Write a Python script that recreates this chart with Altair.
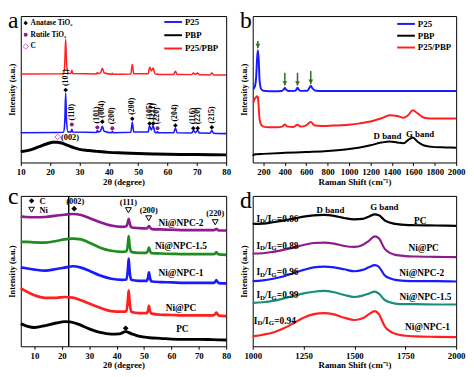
import altair as alt
import pandas as pd

SERIF = "Liberation Serif"
BLACK = "#000000"
BLUE = "#1a1aff"
RED = "#ff1f1f"
PURPLE = "#8e1b8e"
GREEN = "#1e8c1e"
TEAL = "#1d8b7e"
ARROW = "#2e6e1f"
MAGENTA = "#e64de6"

# ---------------- panel a : XRD (2theta, intensity a.u.) ----------------
A_X_TIO2 = [10, 24.6, 25.0, 25.3, 25.6, 26.1, 27.1, 27.4, 27.7, 35.8, 36.1, 36.4, 37.2, 37.8, 38.4,
            40.9, 41.2, 41.5, 47.5, 48.0, 48.5, 53.4, 53.9, 54.5, 55.1, 55.7, 56.3, 56.6, 56.9,
            62.1, 62.7, 63.3, 68.3, 68.8, 69.5, 70.3, 70.9, 74.5, 75.1, 75.7, 80]
A_Y_P25 = [20.3, 20.6, 28, 47.4, 28, 20.9, 20.8, 22.6, 20.8, 20.5, 22, 20.8, 21.6, 24.8, 21.3,
           20.3, 21.3, 20.3, 20.6, 27.5, 20.8, 20.8, 25, 22.3, 25, 20.8, 20.3, 21, 20.3,
           20.3, 23.5, 20.3, 20.2, 21.8, 20.4, 21.8, 20.1, 20, 21.8, 20, 19.7]
A_Y_MIX = [60.4, 60.6, 68, 84.2, 68, 61, 60.8, 63, 60.8, 60.5, 61.5, 60.7, 61.5, 64.3, 61.3,
           60.3, 60.9, 60.2, 60.4, 67, 60.6, 60.6, 65, 62.5, 64.5, 60.6, 60.2, 60.6, 60.1,
           60.1, 62.3, 60.1, 60, 61.1, 60.2, 61.1, 59.9, 59.8, 61.1, 59.8, 59.7]
A_X_PBP = [10, 13, 16, 19, 21, 22.5, 24, 26, 28, 30, 33, 36, 40, 45, 50, 55, 60, 70, 80]
A_Y_PBP = [7.3, 8.4, 10.6, 12.8, 13.8, 13.8, 13.2, 11.7, 10.2, 9, 8.2, 7.6, 6.9, 6.5, 6.1, 5.8, 5.6, 5.4, 5.2]

A_ANA_X = [25.3, 37.8, 48.0, 53.9, 55.1, 62.7, 68.8, 70.3, 75.1]
A_ANA_Y = [49.5, 27.9, 29.9, 26.6, 26.6, 25.3, 23.4, 23.4, 24.0]
A_ANA_LBL = ["(101)", "(004)", "(200)", "(105)", "(211)", "(204)", "(116)", "(220)", "(215)"]
A_RUT_X = [27.4, 36.1, 41.2, 56.6]
A_RUT_Y = [26.0, 24.0, 23.4, 23.4]
A_RUT_LBL = ["(110)", "(101)", "(200)", "(220)"]
A_C_X = [22.6]
A_C_Y = [17.5]
A_C_LBL = ["(002)"]
A_LEG_SERIES = ["P25", "PBP", "P25/PBP"]
A_LEG_PHASE = ["Anatase TiO₂", "Rutile TiO₂", "C"]

# ---------------- panel b : Raman ----------------
B_X_P25 = [105, 120, 132, 140, 148, 156, 164, 180, 200, 300, 370, 388, 400, 412, 430,
           495, 508, 518, 528, 545, 610, 630, 642, 654, 680, 750, 900, 1200, 1600, 2000]
B_Y_P25 = [50.2, 52, 58, 70, 76.6, 70, 56, 50, 49, 48.6, 48.8, 49.8, 50.8, 49.8, 48.8,
           48.9, 49.9, 51, 49.9, 48.9, 49.0, 51, 52.5, 51, 49.2, 48.8, 48.8, 48.8, 48.8, 48.8]
B_X_MIX = [105, 118, 132, 140, 148, 156, 164, 180, 200, 250, 330, 375, 400, 425, 480,
           518, 550, 600, 642, 680, 750, 850, 1000, 1100, 1200, 1300,
           1380, 1450, 1510, 1550, 1595, 1640, 1700, 1800, 1900, 2000]
B_Y_MIX = [41.1, 43.3, 44.6, 45.3, 44.6, 37.6, 29.5, 25.6, 24.5, 24.1, 24.1, 24.5, 26.0, 24.5, 24.3,
           25.8, 24.5, 25.4, 27.6, 25.2, 24.9, 25.2, 25.8, 26.7, 28.0, 30.2,
           32.2, 31.7, 30.6, 32.2, 35.7, 33.5, 30.6, 30.0, 30.0, 30.0]
B_X_PBP = [105, 110, 200, 400, 600, 800, 1000, 1100, 1200, 1300, 1380, 1450, 1510, 1550, 1595,
           1640, 1700, 1800, 1900, 2000]
B_Y_PBP = [4.4, 5.5, 5.9, 6.6, 7.2, 7.9, 9.2, 10.3, 11.8, 13.6, 14.4, 13.6, 13.1, 15.3, 17.1,
           14.2, 11.6, 10.5, 10.3, 10.1]
B_ARROW_X = [148, 400, 518, 642]
B_ARROW_TOP = [83, 61.3, 61.3, 62.4]
B_ARROW_TIP = [78, 52.5, 52.5, 53.6]
B_BAND_X = [1358, 1663]
B_BAND_Y = [17.9, 19.7]
B_BAND_LBL = ["D band", "G band"]

# ---------------- panel c : XRD of carbons ----------------
C_X_PC = [5, 7.5, 10, 14, 18, 21, 23, 26, 30, 34, 38, 41, 43.3, 45.5, 48, 52, 56, 60, 65, 70, 75, 80]
C_Y_PC = [15.1, 13.3, 12.5, 13.8, 15.5, 16.4, 16.2, 14.7, 11.6, 9.2, 8.1, 8.3, 9.8, 8.3, 6.8, 5.7,
          5.3, 4.8, 4.6, 4.6, 4.4, 4.2]
C_X_NI = [5, 7, 10, 14, 18, 21, 24, 27, 30, 34, 38, 42, 43.6, 44.1, 44.4, 44.7, 45.3, 48,
          50.9, 51.5, 51.8, 52.1, 52.8, 56, 60, 65, 70, 75.4, 76.1, 76.4, 76.7, 77.3, 80]
C_Y_NIPC = [38.7, 36.5, 33.9, 32.2, 32.2, 32.8, 32.4, 30.6, 28.4, 25.6, 23.4, 23.0, 23.4, 30.6, 37.2,
            30.6, 23.0, 22.1, 22.1, 24.1, 26.9, 24.1, 21.7, 21.0, 20.8, 20.6, 20.6, 20.6, 21.7,
            22.5, 21.7, 20.4, 20.1]
C_Y_NPC1 = [52.5, 51.9, 51.0, 50.3, 51.4, 52.3, 53.2, 52.3, 50.3, 47.0, 44.9, 44.2, 44.4, 51.0, 58.4,
            51.0, 44.2, 43.5, 43.5, 46.0, 49.2, 46.0, 43.1, 42.7, 42.5, 42.2, 42.2, 42.2, 43.1,
            44.0, 43.1, 42.0, 41.8]
C_Y_NPC15 = [69.4, 69.4, 69.1, 68.9, 70.0, 71.1, 71.6, 71.1, 68.9, 65.6, 63.5, 62.8, 63.2, 67.8, 73.3,
             67.8, 62.8, 62.1, 62.1, 63.9, 65.6, 63.9, 61.9, 61.7, 61.5, 61.3, 61.3, 61.3, 61.9,
             62.6, 61.9, 61.1, 60.8]
C_Y_NPC2 = [86.4, 86.0, 85.8, 86.0, 86.9, 87.5, 88.0, 87.3, 85.3, 82.5, 80.3, 79.4, 79.9, 82.5, 84.7,
            82.5, 79.2, 78.6, 78.3, 79.2, 79.9, 79.2, 77.9, 77.7, 77.5, 77.2, 77.2, 77.2, 77.7,
            78.1, 77.7, 77.0, 77.0]
C_LINE_X = [22.5]
C_LBL = ["Ni@NPC-2", "Ni@NPC-1.5", "Ni@NPC-1", "Ni@PC", "PC"]
C_LBL_X = [63.5, 63.5, 63.5, 63.5, 64.0]
C_LBL_Y = [82.0, 66.7, 48.8, 25.6, 11.4]
C_PEAK_LBL = ["(002)", "(111)", "(200)", "(220)"]
C_PEAK_X = [24.9, 44.3, 51.7, 76.0]
C_PEAK_Y = [96.3, 96.0, 90.7, 88.5]
C_DIA_X = [24.5, 43.3]
C_DIA_Y = [91.5, 12.0]
C_TRI_X = [44.3, 51.7, 76.0]
C_TRI_Y = [90.5, 85.1, 82.5]

# ---------------- panel d : Raman of carbons ----------------
D_X = [1000, 1050, 1100, 1150, 1200, 1250, 1300, 1350, 1400, 1450, 1500, 1540, 1570, 1600, 1620,
       1650, 1700, 1750, 1800, 1900, 2000]
D_Y_PC = [81.4, 81.6, 82.5, 83.6, 84.9, 86.2, 87.1, 87.4, 86.7, 85.3, 84.4, 84.7, 86.2, 87.7, 87.1,
          83.6, 81.4, 80.7, 80.5, 80.3, 80.1]
D_Y_NIPC = [61.7, 61.9, 62.8, 64.1, 65.6, 67.4, 68.7, 68.9, 68.3, 66.7, 66.1, 67.4, 70.0, 73.1, 71.8,
            64.6, 60.8, 60.0, 59.7, 59.5, 59.3]
D_Y_NPC2 = [43.3, 43.8, 44.9, 46.4, 48.6, 50.8, 52.5, 53.0, 52.5, 51.2, 49.9, 50.8, 52.5, 54.0, 52.9,
            47.0, 44.2, 43.5, 43.3, 43.3, 43.1]
D_Y_NPC15 = [28.9, 29.3, 30.2, 31.7, 33.5, 35.2, 36.3, 36.8, 35.9, 34.1, 32.8, 33.7, 35.0, 36.3, 35.0,
             30.6, 28.4, 28.0, 28.0, 27.8, 27.8]
D_Y_NPC1 = [6.6, 7.7, 9.2, 11.8, 15.3, 19.0, 21.4, 22.1, 21.2, 19.0, 17.5, 18.6, 21.2, 23.4, 21.4,
            13.1, 8.3, 7.0, 6.6, 6.3, 6.1]
D_LBL = ["PC", "Ni@PC", "Ni@NPC-2", "Ni@NPC-1.5", "Ni@NPC-1"]
D_LBL_X = [1823, 1840, 1831, 1849, 1859]
D_LBL_Y = [83.2, 65.2, 48.6, 32.8, 12.7]
D_RATIO = ["0.86", "0.88", "0.96", "0.99", "0.94"]
D_RATIO_X = [1018, 1018, 1018, 1018, 1005]
D_RATIO_Y = [84.7, 66.7, 49.2, 33.9, 16.8]
D_BAND_X = [1382, 1647]
D_BAND_Y = [90.4, 92.3]
D_BAND_LBL = ["D band", "G band"]

# ---------------- layout ----------------
W_L, W_R = 209, 207
H_TOP, H_BOT = 149, 153
ONE = pd.DataFrame({"k": [0]})


def xenc(domain, values, title):
    return alt.X("x:Q", scale=alt.Scale(domain=domain, nice=False, zero=False),
                 axis=alt.Axis(values=values, title=title, format="d", labelFlush=False,
                               labelOverlap=False, titlePadding=1))


YENC = alt.Y("y:Q", scale=alt.Scale(domain=[0, 100], nice=False),
             axis=alt.Axis(title="Intensity (a.u.)", labels=False, ticks=False, titlePadding=4,
                           titleFontSize=8.5))


def line(xs, ys, color, width, X):
    return alt.Chart(pd.DataFrame({"x": xs, "y": ys})).mark_line(
        color=color, strokeWidth=width, interpolate="monotone").encode(x=X, y=YENC)


def pts(xs, ys, X, **kw):
    return alt.Chart(pd.DataFrame({"x": xs, "y": ys})).mark_point(**kw).encode(x=X, y=YENC)


def texts(xs, ys, labels, X, **kw):
    return alt.Chart(pd.DataFrame({"x": xs, "y": ys, "t": labels})).mark_text(**kw).encode(
        x=X, y=YENC, text="t:N")


def ptext(px, py, s, **kw):
    return alt.Chart(ONE).mark_text(text=s, **kw).encode(x=alt.value(px), y=alt.value(py))


def pline(x0, x1, py, color):
    return alt.Chart(ONE).mark_rule(color=color, strokeWidth=2).encode(
        x=alt.value(x0), x2=alt.value(x1), y=alt.value(py))


def psym(px, py, **kw):
    return alt.Chart(ONE).mark_point(**kw).encode(x=alt.value(px), y=alt.value(py))


def letter(s, py):
    return ptext(-13, py, s, fontSize=24, fontWeight="normal", align="left", baseline="alphabetic")


# panel a
XA = xenc([10, 80], list(range(10, 81, 10)), "2θ (degree)")
la = [
    line(A_X_PBP, A_Y_PBP, BLACK, 3.0, XA),
    line(A_X_TIO2, A_Y_P25, BLUE, 1.6, XA),
    line(A_X_TIO2, A_Y_MIX, RED, 1.5, XA),
    pts(A_ANA_X, A_ANA_Y, XA, shape="diamond", filled=True, color=BLACK, size=22, opacity=1),
    pts(A_RUT_X, A_RUT_Y, XA, shape="circle", filled=True, color=PURPLE, size=16, opacity=1),
    pts(A_C_X, A_C_Y, XA, shape="diamond", filled=False, color=MAGENTA, size=34, strokeWidth=1, opacity=1),
    texts(A_ANA_X, A_ANA_Y, A_ANA_LBL, XA, angle=270, align="left", baseline="middle", dx=4, fontSize=8),
    texts(A_RUT_X, A_RUT_Y, A_RUT_LBL, XA, angle=270, align="left", baseline="middle", dx=4, fontSize=8),
    texts([x + 1.1 for x in A_C_X], A_C_Y, A_C_LBL, XA, align="left", baseline="middle", fontSize=8.5),
    letter("a", 12),
]
a_syms = [dict(shape="diamond", filled=True, color=BLACK, size=20),
          dict(shape="circle", filled=True, color=PURPLE, size=16),
          dict(shape="diamond", filled=False, color=MAGENTA, size=30, strokeWidth=1)]
for i, (lab, sym) in enumerate(zip(A_LEG_PHASE, a_syms)):
    yy = 7 + 12 * i
    la.append(psym(5, yy, opacity=1, **sym))
    la.append(ptext(10, yy, lab, fontSize=7.5, align="left", baseline="middle"))
for i, (lab, col) in enumerate(zip(A_LEG_SERIES, [BLUE, BLACK, RED])):
    yy = 6 + 13.5 * i
    la.append(pline(W_L - 63, W_L - 45, yy, col))
    la.append(ptext(W_L - 42, yy, lab, fontSize=9, align="left", baseline="middle"))
panel_a = alt.layer(*la).properties(width=W_L, height=H_TOP)

# panel b
XB = xenc([100, 2000], list(range(200, 2001, 200)), "Raman Shift (cm⁻¹)")
arrow_df = pd.DataFrame({"x": B_ARROW_X, "y": B_ARROW_TOP, "y2": B_ARROW_TIP})
head_df = pd.DataFrame({"x": B_ARROW_X, "y": [t + 1.6 for t in B_ARROW_TIP]})
lb = [
    line(B_X_PBP, B_Y_PBP, BLACK, 2.0, XB),
    line(B_X_MIX, B_Y_MIX, RED, 2.0, XB),
    line(B_X_P25, B_Y_P25, BLUE, 2.0, XB),
    alt.Chart(arrow_df).mark_rule(color=ARROW, strokeWidth=1.5).encode(x=XB, y=YENC, y2="y2:Q"),
    alt.Chart(head_df).mark_point(shape="triangle-down", filled=True, color=ARROW, size=24, opacity=1).encode(x=XB, y=YENC),
    texts(B_BAND_X, B_BAND_Y, B_BAND_LBL, XB, align="center", baseline="middle", fontSize=9),
    letter("b", 12),
]
for i, (lab, col) in enumerate(zip(A_LEG_SERIES, [BLUE, BLACK, RED])):
    yy = 8 + 12 * i
    lb.append(pline(W_R - 60, W_R - 42, yy, col))
    lb.append(ptext(W_R - 39, yy, lab, fontSize=9, align="left", baseline="middle"))
panel_b = alt.layer(*lb).properties(width=W_R, height=H_TOP)

# panel c
XC = xenc([5, 80], list(range(10, 81, 10)), "2θ (degree)")
lc = [
    alt.Chart(pd.DataFrame({"x": C_LINE_X})).mark_rule(color=BLACK, strokeWidth=1.5).encode(x=XC),
    line(C_X_PC, C_Y_PC, BLACK, 2.9, XC),
    line(C_X_NI, C_Y_NIPC, RED, 2.7, XC),
    line(C_X_NI, C_Y_NPC1, BLUE, 2.7, XC),
    line(C_X_NI, C_Y_NPC15, GREEN, 2.7, XC),
    line(C_X_NI, C_Y_NPC2, PURPLE, 2.7, XC),
    texts(C_LBL_X, C_LBL_Y, C_LBL, XC, align="center", baseline="middle", fontSize=9.5),
    texts(C_PEAK_X, C_PEAK_Y, C_PEAK_LBL, XC, align="center", baseline="middle", fontSize=8.5),
    pts(C_DIA_X, C_DIA_Y, XC, shape="diamond", filled=True, color=BLACK, size=34, opacity=1),
    pts(C_TRI_X, C_TRI_Y, XC, shape="triangle-down", filled=False, color=BLACK, size=36, strokeWidth=1, opacity=1),
    psym(11, 5, shape="diamond", filled=True, color=BLACK, size=30, opacity=1),
    ptext(19, 5, "C", fontSize=8.5, align="left", baseline="middle"),
    psym(11, 14, shape="triangle-down", filled=False, color=BLACK, size=32, strokeWidth=1, opacity=1),
    ptext(19, 14, "Ni", fontSize=8.5, align="left", baseline="middle"),
    letter("c", 8),
]
panel_c = alt.layer(*lc).properties(width=W_L, height=H_BOT)

# panel d
XD = xenc([1000, 2000], [1000, 1250, 1500, 1750, 2000], "Raman Shift (cm⁻¹)")
ratio_df = pd.DataFrame({"x": D_RATIO_X, "y": D_RATIO_Y, "v": ["=" + r for r in D_RATIO]})
big, small = 9.5, 7


def rpiece(s, dx, dy, fs):
    return alt.Chart(ratio_df).mark_text(text=s, dx=dx, dy=dy, fontSize=fs, align="left",
                                         baseline="middle").encode(x=XD, y=YENC)


ld = [
    line(D_X, D_Y_PC, BLACK, 2.2, XD),
    line(D_X, D_Y_NIPC, PURPLE, 2.2, XD),
    line(D_X, D_Y_NPC2, BLUE, 2.2, XD),
    line(D_X, D_Y_NPC15, TEAL, 2.2, XD),
    line(D_X, D_Y_NPC1, RED, 2.2, XD),
    texts(D_LBL_X, D_LBL_Y, D_LBL, XD, align="center", baseline="middle", fontSize=9.5),
    texts(D_BAND_X, D_BAND_Y, D_BAND_LBL, XD, align="center", baseline="middle", fontSize=9),
    rpiece("I", 0, 0, big),
    rpiece("D", 3.7, 2.5, small),
    rpiece("/I", 8.8, 0, big),
    rpiece("G", 15.2, 2.5, small),
    alt.Chart(ratio_df).mark_text(dx=20.8, fontSize=big, align="left", baseline="middle").encode(
        x=XD, y=YENC, text="v:N"),
    letter("d", 12),
]
panel_d = alt.layer(*ld).properties(width=W_R, height=H_BOT)

chart = alt.concat(panel_a, panel_b, panel_c, panel_d, columns=2,
                   spacing={"row": 34, "column": 27}, bounds="flush").properties(
    padding={"left": -1, "top": -3, "right": 0, "bottom": 0}
).configure_view(stroke="black", strokeWidth=1).configure_axis(
    labelFont=SERIF, labelFontWeight="bold", labelFontSize=9, labelColor="black",
    titleFont=SERIF, titleFontWeight="bold", titleFontSize=9, titleColor="black",
    domain=False, grid=False, tickColor="black", tickSize=3, labelPadding=2
).configure_text(font=SERIF, fontWeight="bold", color="black")

chart.save("out.html", embed_options={"renderer": "svg", "actions": False})
